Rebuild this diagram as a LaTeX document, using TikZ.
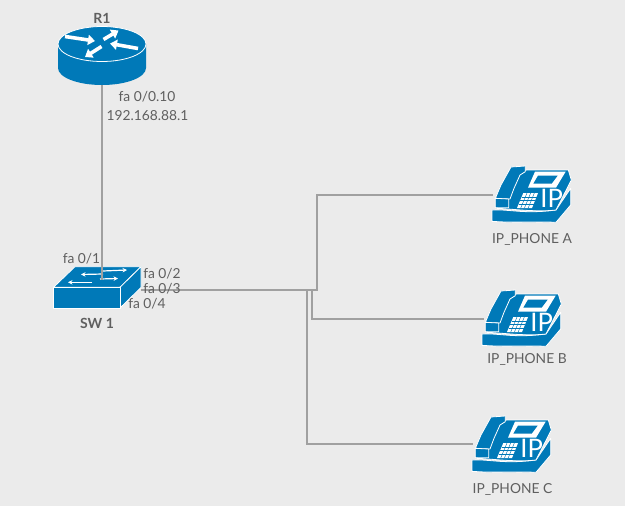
\documentclass[tikz,border=0pt]{standalone}
\usepackage{fontspec}
\usetikzlibrary{arrows.meta}
\setmainfont{Lato}
\definecolor{bgc}{HTML}{EBEBEB}
\definecolor{ciscoblue}{HTML}{0079B8}
\definecolor{linec}{HTML}{A0A0A0}
\definecolor{txt}{HTML}{5F5F5F}
\tikzset{
 x=1pt,y=-1pt,
 lbl/.style={font=\fontsize{13.8}{15}\selectfont,text=txt,inner sep=0pt},
 blbl/.style={font=\fontsize{14}{15}\selectfont\bfseries,text=txt,inner sep=0pt},
 conn/.style={draw=linec,line width=2pt},
 blue/.style={fill=ciscoblue,draw=white,line width=.8pt,line join=round},
 wht/.style={fill=white,draw=none},
 warrow/.style={white,line width=1.2pt,-{Stealth[length=4.5pt,width=4.5pt]}},
 rarrow/.style={white,line width=3.6pt,-{Triangle[length=7pt,width=10pt]}},
 hook/.style={inner sep=0pt,minimum size=0pt},
 phonepic/.pic={
  % base
  \path[blue] (36,165) .. controls (90,162) and (130,178) .. (228,165) -- (272,100) -- (272,150) -- (228,202) .. controls (170,199) and (100,204) .. (36,199) -- cycle;
  % body
  \path[blue] (50,160) -- (100,60) -- (140,45) -- (265,45) -- (274,75) -- (228,165) .. controls (170,172) and (100,162) .. (50,160) -- cycle;
  % handset
  \path[blue] (46,130) -- (63,90) -- (93,36) -- (136,33) -- (136,50) -- (120,60) -- (102,100) -- (90,132) -- cycle;
  \path[blue] (46,130) -- (86,132) -- (86,158) -- (46,158) -- cycle;
  % screen
  \path[wht] (165,50) -- (257,50) -- (228,98) -- (144,98) -- cycle;
  \path[fill=ciscoblue] (174,62) -- (233,62) -- (215,86) -- (160,86) -- cycle;
  % keypad
  \path[wht] (130,114) -- (174,114) -- (156,159) -- (111,159) -- cycle;
  \foreach \i in {1,2,3} \path[draw=ciscoblue,line width=.45pt] (130+\i*11,114) -- (111+\i*11.2,159);
  \foreach \i in {1,2,3} \path[draw=ciscoblue,line width=.45pt] (130-\i*4.7,114+\i*11.2) -- (174-\i*4.5,114+\i*11.2);
  \node[font=\fontsize{25.5}{25}\selectfont,text=white,inner sep=0pt] at (215,130) {IP};
 }
}
\begin{document}
\begin{tikzpicture}
\useasboundingbox[fill=bgc] (0,0) rectangle (625,506);
% anchors for connectors
\node[hook] (r1) at (102,85) {};
\node[hook] (sw) at (102,280) {};
\node[hook] (swr) at (141,290) {};
\node[hook] (j) at (307,290) {};
\node[hook] (pa) at (493,195) {};
\node[hook] (pb) at (484,319) {};
\node[hook] (pc) at (473,444) {};
% router
\path[fill=ciscoblue] (58,44) -- (58,68) arc[start angle=180,end angle=0,x radius=44,y radius=17] -- (146,44) -- cycle;
\path[fill=ciscoblue,draw=white,line width=.8pt] (102,44) ellipse[x radius=44,y radius=17.5];
\draw[rarrow] (65,36.5) -- (95,41);
\draw[rarrow] (103.5,39.5) -- (118.5,30.5);
\draw[rarrow] (138,48.5) -- (110,43.5);
\draw[rarrow] (101.5,46.5) -- (85,57);
\node[blbl] (r1lab) at (102,18) {R1};
\node[lbl] (l1) at (147,97) {fa 0/0.10};
\node[lbl] (l2) at (147.5,115.5) {192.168.88.1};
% switch
\path[blue] (53.5,287.3) -- (75,266.7) -- (141,266.7) -- (120,287.3) -- cycle;
\path[blue] (120,287.3) -- (141,266.7) -- (141,287.5) -- (120,308) -- cycle;
\path[blue] (53.5,287.3) rectangle (120,308.5);
\draw[warrow] (103,271) -- (127,270);
\draw[warrow] (103,274) -- (81,274.5);
\draw[warrow] (100,279) -- (118,278.5);
\draw[warrow] (92,282.3) -- (68,282.3);
% connectors
\draw[conn] (r1.center) -- (sw.center);
\draw[conn] (swr.center) -- (j.center);
\draw[conn] (j.center) -- (317,290) -- (317,195) -- (pa.center);
\draw[conn] (312,290) |- (pb.center);
\draw[conn] (j.center) |- (pc.center);
\node[lbl] (p1) at (81.5,258.5) {fa 0/1};
\node[lbl] (p2) at (162,274) {fa 0/2};
\node[lbl] (p3) at (162,289) {fa 0/3};
\node[lbl] (p4) at (147,304) {fa 0/4};
\node[blbl] (swl) at (97,323.5) {SW 1};
% phones
\pic[scale=1/3] at (480,155) {phonepic};
\pic[scale=1/3] at (470,279) {phonepic};
\pic[scale=1/3] at (460,405) {phonepic};
\node[lbl] (a) at (532,239) {IP\_PHONE A};
\node[lbl] (b) at (527,359) {IP\_PHONE B};
\node[lbl] (c) at (512.5,489) {IP\_PHONE C};
\end{tikzpicture}
\end{document}
